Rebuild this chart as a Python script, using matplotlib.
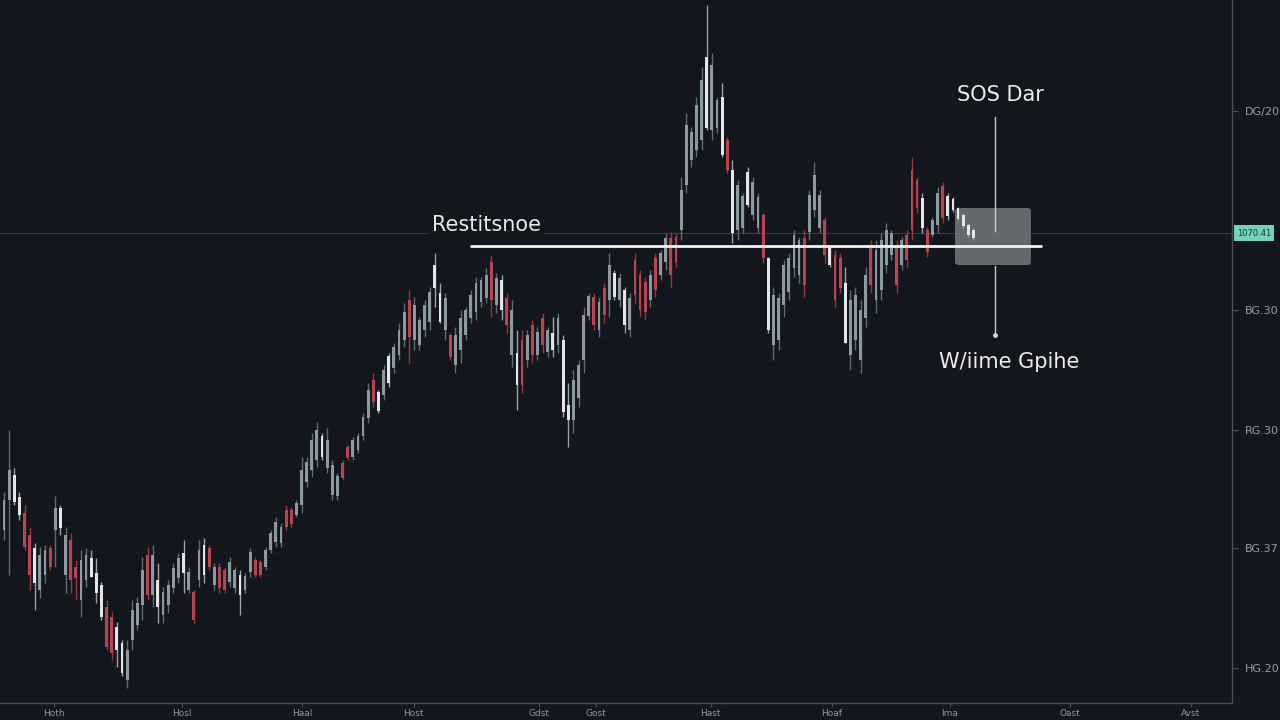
import numpy as np
import matplotlib
matplotlib.use("Agg")
import matplotlib.pyplot as plt
from matplotlib.patches import FancyBboxPatch
import matplotlib.transforms as mtransforms

# 蜡烛图数据（价格单位，从图上估读）
opens = [170, 200, 198, 185, 187, 165, 117, 110, 125, 152, 170, 172, 125, 160, 133, 100, 120, 123, 107, 83,
         93, 83, 50, 27, 20, 60, 75, 95, 145, 105, 93, 85, 95, 112, 122, 127, 110, 108, 120, 125,
         152, 115, 133, 130, 118, 112, 105, 110, 128, 140, 138, 133, 150, 158, 157, 190, 190, 185, 195, 218,
         230, 240, 243, 232, 205, 204, 237, 253, 243, 250, 264, 282, 320, 289, 305, 317, 332, 345, 360, 400,
         360, 355, 370, 378, 412, 378, 370, 365, 335, 350, 365, 382, 388, 398, 402, 438, 395, 390, 402, 345,
         315, 360, 340, 375, 345, 382, 348, 350, 355, 288, 280, 280, 302, 340, 384, 403, 370, 412, 400, 403,
         400, 375, 370, 440, 425, 418, 400, 442, 425, 438, 462, 463, 470, 515, 540, 550, 560, 572, 570, 572,
         545, 560, 467, 470, 472, 495, 485, 472, 485, 370, 355, 360, 395, 408, 432, 425, 462, 468, 490, 472,
         480, 435, 445, 442, 357, 345, 360, 340, 382, 452, 400, 410, 435, 445, 455, 435, 465, 530, 520, 472,
         470, 465, 475, 514, 504, 501, 492, 485, 475, 470]
highs = [208, 270, 232, 208, 195, 173, 157, 153, 155, 155, 204, 195, 173, 167, 140, 150, 152, 150, 142, 118,
         100, 88, 78, 60, 60, 100, 103, 143, 153, 155, 137, 113, 120, 137, 147, 160, 133, 110, 160, 162,
         155, 137, 137, 133, 143, 133, 130, 127, 152, 143, 140, 153, 170, 183, 177, 195, 193, 200, 243, 243,
         267, 278, 267, 272, 240, 227, 240, 255, 263, 267, 287, 317, 327, 310, 335, 347, 357, 377, 397, 410,
         403, 383, 400, 413, 447, 417, 407, 367, 373, 390, 393, 410, 423, 423, 432, 445, 427, 425, 407, 400,
         370, 370, 370, 380, 373, 387, 373, 383, 387, 365, 317, 330, 340, 393, 407, 407, 403, 417, 447, 430,
         427, 413, 407, 447, 430, 423, 430, 447, 450, 467, 468, 467, 523, 587, 573, 603, 633, 695, 647, 603,
         617, 563, 540, 520, 507, 533, 523, 507, 487, 443, 413, 407, 440, 447, 470, 463, 470, 510, 538, 510,
         483, 453, 450, 447, 433, 410, 413, 400, 433, 460, 460, 467, 477, 470, 460, 463, 470, 543, 523, 507,
         473, 483, 513, 518, 507, 503, 493, 487, 477, 472]
lows = [160, 125, 195, 180, 150, 110, 90, 102, 117, 130, 133, 165, 107, 107, 100, 83, 113, 123, 97, 80,
        50, 40, 33, 24, 12, 50, 70, 80, 100, 93, 77, 77, 87, 107, 117, 107, 107, 77, 113, 117,
        130, 110, 107, 107, 113, 107, 85, 107, 123, 123, 123, 130, 147, 153, 153, 170, 173, 183, 187, 213,
        223, 233, 240, 227, 200, 200, 220, 240, 240, 247, 260, 277, 293, 287, 300, 313, 327, 340, 353, 337,
        350, 350, 363, 370, 393, 377, 360, 340, 327, 337, 360, 377, 380, 393, 397, 383, 387, 380, 367, 333,
        290, 307, 333, 337, 340, 347, 343, 343, 347, 283, 253, 267, 293, 327, 380, 370, 363, 377, 383, 400,
        393, 367, 363, 397, 383, 380, 393, 403, 420, 430, 413, 433, 460, 507, 533, 543, 550, 570, 560, 567,
        543, 527, 457, 460, 467, 493, 480, 467, 437, 367, 340, 350, 383, 400, 423, 417, 403, 460, 483, 467,
        437, 433, 393, 407, 357, 330, 350, 327, 373, 407, 387, 400, 427, 440, 407, 430, 433, 460, 487, 467,
        443, 463, 467, 477, 480, 488, 480, 472, 463, 460]
closes = [200, 230, 225, 203, 153, 125, 152, 145, 150, 133, 192, 192, 165, 120, 122, 140, 145, 142, 127, 115,
          53, 47, 73, 57, 50, 90, 97, 130, 105, 145, 120, 108, 115, 132, 142, 147, 128, 80, 150, 155,
          133, 133, 112, 110, 138, 130, 125, 124, 148, 125, 125, 150, 167, 178, 173, 173, 176, 197, 230, 238,
          260, 270, 264, 260, 235, 224, 222, 242, 260, 264, 283, 310, 298, 308, 330, 344, 353, 370, 388, 363,
          395, 380, 395, 408, 435, 407, 402, 343, 365, 382, 390, 405, 417, 420, 425, 400, 422, 420, 375, 390,
          347, 315, 365, 345, 368, 355, 370, 367, 382, 360, 295, 320, 335, 385, 404, 375, 398, 385, 435, 427,
          422, 410, 402, 405, 390, 388, 425, 410, 447, 462, 425, 438, 510, 575, 568, 595, 620, 643, 635, 600,
          603, 530, 530, 515, 504, 528, 518, 503, 442, 442, 405, 402, 435, 442, 465, 460, 415, 505, 525, 505,
          445, 452, 400, 412, 417, 400, 405, 390, 425, 415, 450, 460, 470, 467, 415, 460, 440, 470, 492, 502,
          448, 480, 507, 482, 484, 490, 481, 474, 465, 462]
# w = 白色实体, g = 灰色实体, r = 红色实体
tones = list("ggwwrrwggr" "gwgrrggwww" "rrwwggggrg" "wggggwgrgw" "rgrrggwggr"
             "rggggrrggg" "ggwgggrrgg" "ggrwgwgggr" "ggggwwgrgg" "gggggrgwrg"
             "wrgrgrgwgw" "wggggrgrgw" "gwgrrrgrgg" "rrgggggwgg" "wrwggwggrw"
             "ggggggrggg" "rwrrwggggr" "ggggrgrrrw" "rggrwwwwww")

x_ticks = [9.75, 34.7, 58.1, 79.9, 104.3, 115.4, 137.8, 161.4, 184.4, 207.8, 231.4]
x_labels = ["Hoth", "Hosl", "Haal", "Host", "Gdst", "Gost", "Hast", "Hoaf", "Ima", "Oast", "Avst"]
y_ticks = [589, 390, 270, 152, 32]
y_labels = ["DG/20", "BG.30", "RG.30", "BG.37", "HG.20"]

resistance = 454
last_price = 467
last_label = "1070.41"

bg = "#13161c"
tone_colors = {"w": "#e3e6e9", "g": "#8d99a1", "r": "#b9434f"}
wick_colors = {"w": "#9aa3a9", "g": "#5f6b73", "r": "#8e3a44"}

fig = plt.figure(figsize=(12.8, 7.2), dpi=100, facecolor=bg)
ax = fig.add_axes([0, 17 / 720, 1232 / 1280, 703 / 720], facecolor=bg)

n = len(opens)
idx = np.arange(n)
o = np.array(opens, dtype=float)
c = np.array(closes, dtype=float)
h = np.array(highs, dtype=float)
l = np.array(lows, dtype=float)

# 价格参考线
ax.axhline(last_price, color="#363c44", lw=0.8, zorder=1)

# 影线 + 实体
ax.vlines(idx, l, h, colors=[wick_colors[t] for t in tones], lw=1.0, zorder=3)
bottoms = np.minimum(o, c)
heights = np.maximum(np.abs(c - o), 1.5)
ax.bar(idx, heights, bottom=bottoms, width=0.55,
       color=[tone_colors[t] for t in tones], linewidth=0, zorder=4)

# SOS 区域
box = FancyBboxPatch((185.4, 435), 14.8, 57, boxstyle="round,pad=0,rounding_size=0.8",
                     mutation_aspect=4, facecolor="#6a6d72", edgecolor="none", alpha=0.95, zorder=2)
ax.add_patch(box)

# 阻力线
ax.hlines(resistance, 90.8, 202.3, color="#f2f2f2", lw=2.0, zorder=6)

ax.text(94.0, 475, "Restitsnoe", color="#e8e8e8", fontsize=15, ha="center", va="center",
        bbox=dict(facecolor=bg, edgecolor="none", pad=2), zorder=5)
ax.text(194.2, 605, "SOS Dar", color="#ededed", fontsize=15, ha="center", va="center", zorder=6)
ax.text(195.9, 338, "W/iime Gpihe", color="#ededed", fontsize=15, ha="center", va="center", zorder=6)

ax.plot([193.2, 193.2], [583, 469], color="#c8c8c8", lw=1.0, zorder=5)
ax.plot([193.2, 193.2], [434, 365], color="#c8c8c8", lw=1.0, zorder=5)
ax.plot([193.2], [365], marker="o", ms=2.5, color="#d0d0d0", zorder=5)

# 坐标轴
ax.set_xlim(-0.78, 239.4)
ax.set_ylim(-3, 700)
for s in ["left", "top"]:
    ax.spines[s].set_visible(False)
for s in ["right", "bottom"]:
    ax.spines[s].set_color("#4a5058")
    ax.spines[s].set_linewidth(1.0)

ax.yaxis.tick_right()
ax.set_yticks(y_ticks)
ax.set_yticklabels(y_labels)
ax.set_xticks(x_ticks)
ax.set_xticklabels(x_labels)
ax.tick_params(axis="y", colors="#4a5058", labelcolor="#979da3", labelsize=8, length=4, pad=5)
ax.tick_params(axis="x", colors="#4a5058", labelcolor="#8f959b", labelsize=6.5, length=3, pad=1)

# 最新价标签
trans = mtransforms.blended_transform_factory(ax.transAxes, ax.transData)
ax.text(1.0 + 22 / 1232, last_price, last_label, transform=trans, fontsize=6, color="#1b3430",
        ha="center", va="center", zorder=7,
        bbox=dict(boxstyle="square,pad=0.4", facecolor="#72d2bb", edgecolor="none"))

fig.savefig("out.png", dpi=100, facecolor=bg)
